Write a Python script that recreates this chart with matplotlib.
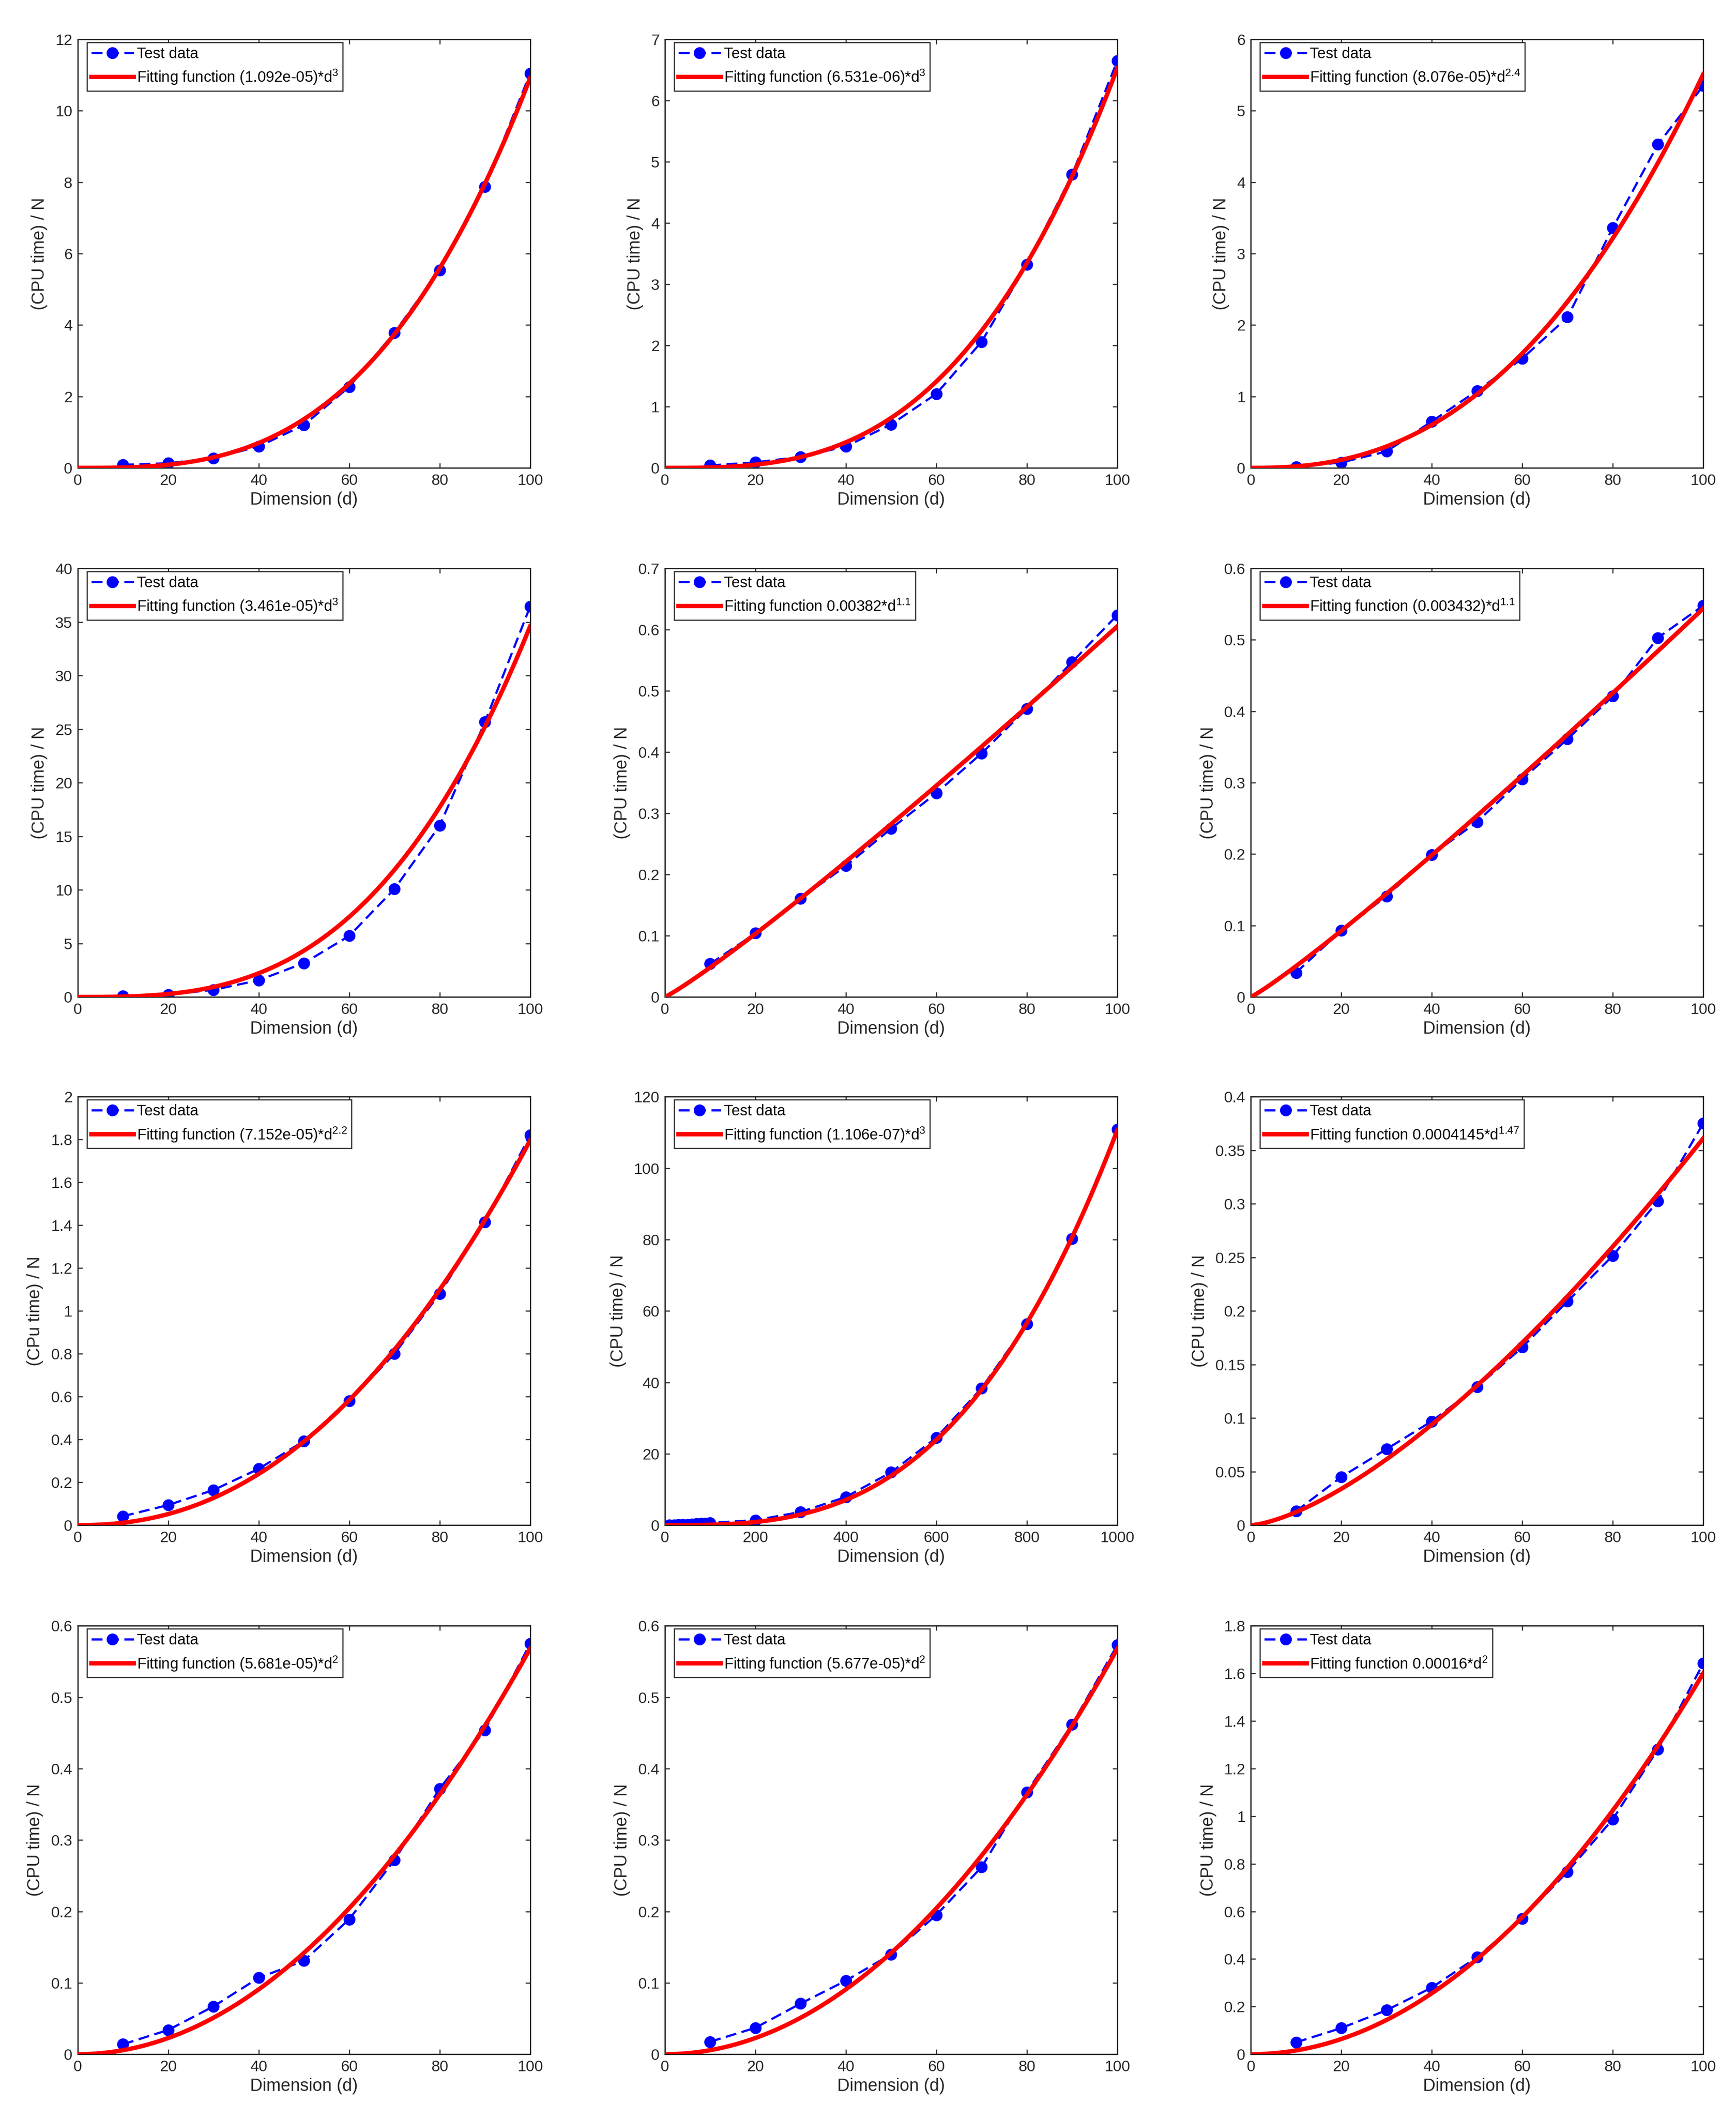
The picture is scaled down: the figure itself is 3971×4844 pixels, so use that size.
import numpy as np
import matplotlib
matplotlib.use("Agg")
import matplotlib.pyplot as plt
from matplotlib.ticker import FormatStrFormatter, MultipleLocator

plt.rcParams['font.family'] = ['Liberation Sans', 'DejaVu Sans']
plt.rcParams['mathtext.fontset'] = 'custom'
plt.rcParams['mathtext.rm'] = 'Liberation Sans'
plt.rcParams['mathtext.it'] = 'Liberation Sans:italic'

# dimensions tested
d_std = [10, 20, 30, 40, 50, 60, 70, 80, 90, 100]
d_big = [10, 20, 30, 40, 50, 60, 70, 80, 90, 100,
         200, 300, 400, 500, 600, 700, 800, 900, 1000]

# measured (CPU time)/N, one list per panel
t1 = [0.085, 0.13, 0.27, 0.60, 1.20, 2.27, 3.79, 5.54, 7.88, 11.05]
t2 = [0.04, 0.09, 0.18, 0.35, 0.71, 1.21, 2.06, 3.32, 4.79, 6.65]
t3 = [0.015, 0.075, 0.23, 0.65, 1.08, 1.53, 2.11, 3.36, 4.53, 5.35]
t4 = [0.1, 0.22, 0.66, 1.56, 3.16, 5.7, 10.08, 16.0, 25.67, 36.46]
t5 = [0.054, 0.104, 0.161, 0.214, 0.275, 0.333, 0.398, 0.471, 0.547, 0.624]
t6 = [0.034, 0.093, 0.141, 0.199, 0.245, 0.305, 0.361, 0.421, 0.503, 0.548]
t7 = [0.042, 0.094, 0.164, 0.263, 0.393, 0.579, 0.80, 1.081, 1.414, 1.821]
t8 = [0.02, 0.05, 0.09, 0.14, 0.2, 0.27, 0.35, 0.45, 0.55, 0.66,
      1.4, 3.7, 7.9, 14.8, 24.5, 38.4, 56.4, 80.2, 110.8]
t9 = [0.013, 0.045, 0.071, 0.097, 0.129, 0.166, 0.209, 0.2515, 0.3026, 0.375]
t10 = [0.014, 0.034, 0.067, 0.107, 0.131, 0.189, 0.272, 0.372, 0.454, 0.575]
t11 = [0.0175, 0.037, 0.071, 0.103, 0.140, 0.195, 0.262, 0.367, 0.462, 0.573]
t12 = [0.05, 0.11, 0.185, 0.28, 0.408, 0.569, 0.767, 0.987, 1.281, 1.642]

times = [t1, t2, t3, t4, t5, t6, t7, t8, t9, t10, t11, t12]
dims = [d_std] * 7 + [d_big] + [d_std] * 4

# fitted c*d^p (exponents as fitted; legend shows rounded text)
coef = [1.092e-05, 6.531e-06, 8.076e-05, 3.461e-05, 0.00382, 0.003432,
        7.152e-05, 1.106e-07, 0.0004145, 5.681e-05, 5.677e-05, 0.00016]
expo = [3, 3, 2.417, 3, 1.1, 1.1, 2.2, 3, 1.47, 2, 2, 2]
coef_txt = ['(1.092e-05)', '(6.531e-06)', '(8.076e-05)', '(3.461e-05)',
            '0.00382', '(0.003432)', '(7.152e-05)', '(1.106e-07)',
            '0.0004145', '(5.681e-05)', '(5.677e-05)', '0.00016']
expo_txt = ['3', '3', '2.4', '3', '1.1', '1.1', '2.2', '3', '1.47', '2', '2', '2']

ymax = [12, 7, 6, 40, 0.7, 0.6, 2, 120, 0.4, 0.6, 0.6, 1.8]
ystep = [2, 1, 1, 5, 0.1, 0.1, 0.2, 20, 0.05, 0.1, 0.1, 0.2]
xmax = [100] * 7 + [1000] + [100] * 4
ylabels = ['(CPU time) / N'] * 6 + ['(CPu time) / N'] + ['(CPU time) / N'] * 5

txtc = (0.15, 0.15, 0.15)

fig = plt.figure(figsize=(3971 / 300, 4844 / 300), dpi=300)

lefts = [0.0448, 0.383, 0.7205]
bottoms = [0.7791, 0.5293, 0.2799, 0.0301]
w, h = 0.2606, 0.2023

for i in range(12):
    r, c = divmod(i, 3)
    ax = fig.add_axes([lefts[c], bottoms[r], w, h])
    ax.plot(dims[i], times[i], '--', color='blue', marker='o', markersize=5.5,
            linewidth=1.2, dashes=(5, 2.5), label='Test data', zorder=2)
    dd = np.linspace(0, xmax[i], 500)
    ax.plot(dd, coef[i] * dd ** expo[i], '-', color='red', linewidth=2.4,
            label='Fitting function ' + coef_txt[i] + '*d$^{' + expo_txt[i] + '}$',
            zorder=3)
    ax.set_xlim(0, xmax[i])
    ax.set_ylim(0, ymax[i])
    ax.xaxis.set_major_locator(MultipleLocator(xmax[i] / 5))
    ax.yaxis.set_major_locator(MultipleLocator(ystep[i]))
    ax.yaxis.set_major_formatter(FormatStrFormatter('%g'))
    ax.xaxis.set_major_formatter(FormatStrFormatter('%g'))
    ax.tick_params(direction='in', top=True, right=True, length=2.6, width=0.6,
                   labelsize=8.5, colors=txtc, pad=3)
    for s in ax.spines.values():
        s.set_linewidth(0.7)
        s.set_color(txtc)
    ax.set_xlabel('Dimension (d)', fontsize=9.5, color=txtc, labelpad=2)
    ax.set_ylabel(ylabels[i], fontsize=9.5, color=txtc, labelpad=4)
    leg = ax.legend(loc='upper left', bbox_to_anchor=(0.02, 0.993),
                    borderaxespad=0, fontsize=8.3, fancybox=False,
                    framealpha=1, edgecolor=txtc, handlelength=2.8,
                    handletextpad=0.2, labelspacing=0.45, borderpad=0.3)
    leg.get_frame().set_linewidth(0.6)

fig.savefig('out.png', dpi=300)
